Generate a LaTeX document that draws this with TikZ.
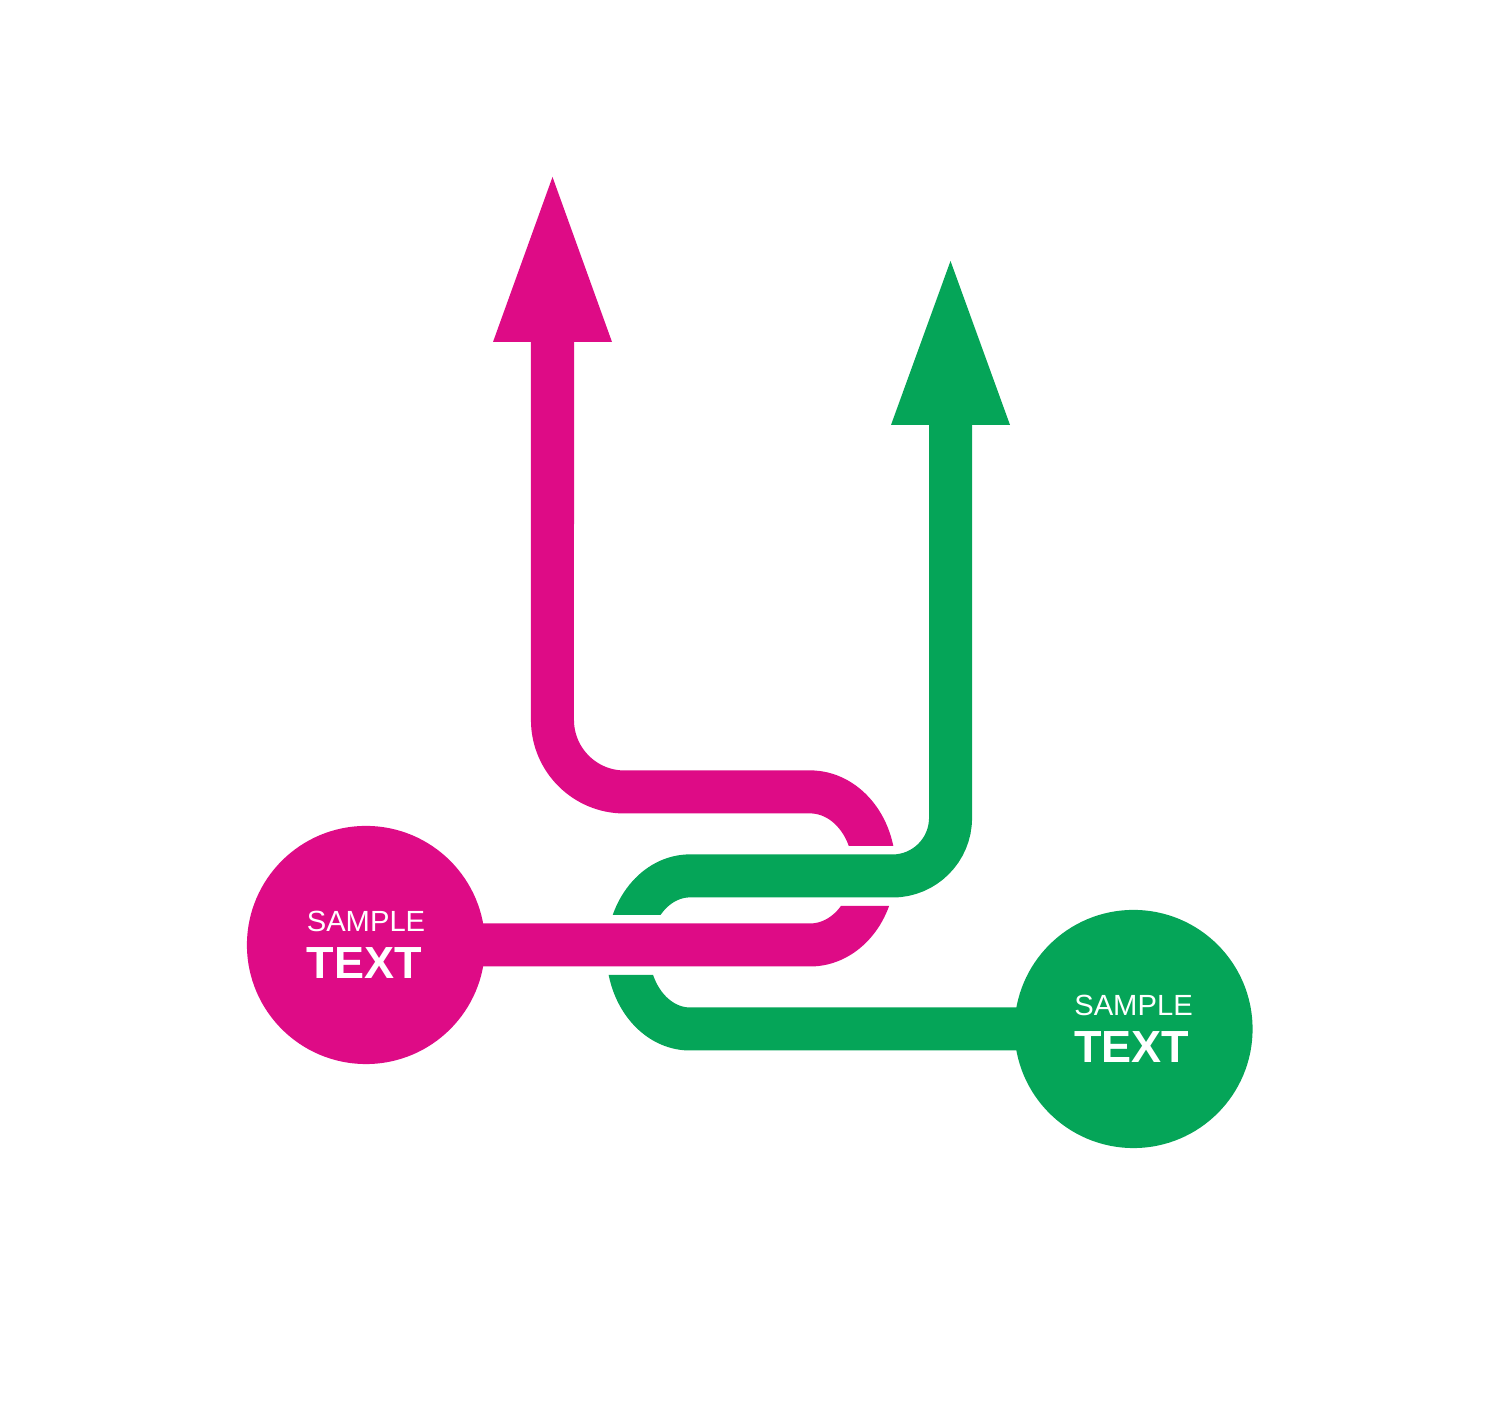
\documentclass[tikz,border=0pt]{standalone}
\usepackage{fontspec}
\setmainfont{Liberation Sans}
\definecolor{magentaline}{HTML}{DE0B86}
\definecolor{greenline}{HTML}{05A558}
\begin{document}
\begin{tikzpicture}[x=0.01cm, y=0.01cm,
  magline/.style={magentaline, line width=0.43cm},
  grnline/.style={greenline, line width=0.43cm},
  dot/.style={circle, minimum size=2.38cm, inner sep=0pt, text=white, align=left,
    font=\fontsize{8.3}{13.4}\selectfont}]
\useasboundingbox (0,0) rectangle (1500,1425);
\coordinate (mc) at (366,480);
\coordinate (gc) at (1133.5,396);
\coordinate (mtip) at (552.5,1248);
\coordinate (gtip) at (950.5,1164);
% green passes under the magenta on the left
\begin{scope}[even odd rule]
  \clip (0,0) rectangle (1500,1425) (590,450) rectangle (680,510);
  \draw[grnline] (gc) -- (690,396) arc[start angle=270, end angle=90, x radius=0.62cm, y radius=0.765cm]
    -- (892.5,549) arc[start angle=-90, end angle=0, radius=0.58cm] -- (950.5,1002);
\end{scope}
\fill[greenline] (gtip) -- ++(-59.5,-164) -- ++(119,0) -- cycle;
% magenta passes under the green on the right
\begin{scope}[even odd rule]
  \clip (0,0) rectangle (1500,1425) (830,519) rectangle (910,579);
  \draw[magline] (mc) -- (810,480) arc[start angle=-90, end angle=90, x radius=0.64cm, y radius=0.765cm]
    -- (624.5,633) arc[start angle=270, end angle=180, radius=0.72cm] -- (552.5,1085);
\end{scope}
\fill[magentaline] (mtip) -- ++(-59.5,-165) -- ++(119,0) -- cycle;
\node[dot, fill=magentaline] (mcirc) at (mc) {SAMPLE\\{\fontsize{12.8}{13.4}\selectfont\bfseries TEXT}};
\node[dot, fill=greenline] (gcirc) at (gc) {SAMPLE\\{\fontsize{12.8}{13.4}\selectfont\bfseries TEXT}};
\end{tikzpicture}
\end{document}
